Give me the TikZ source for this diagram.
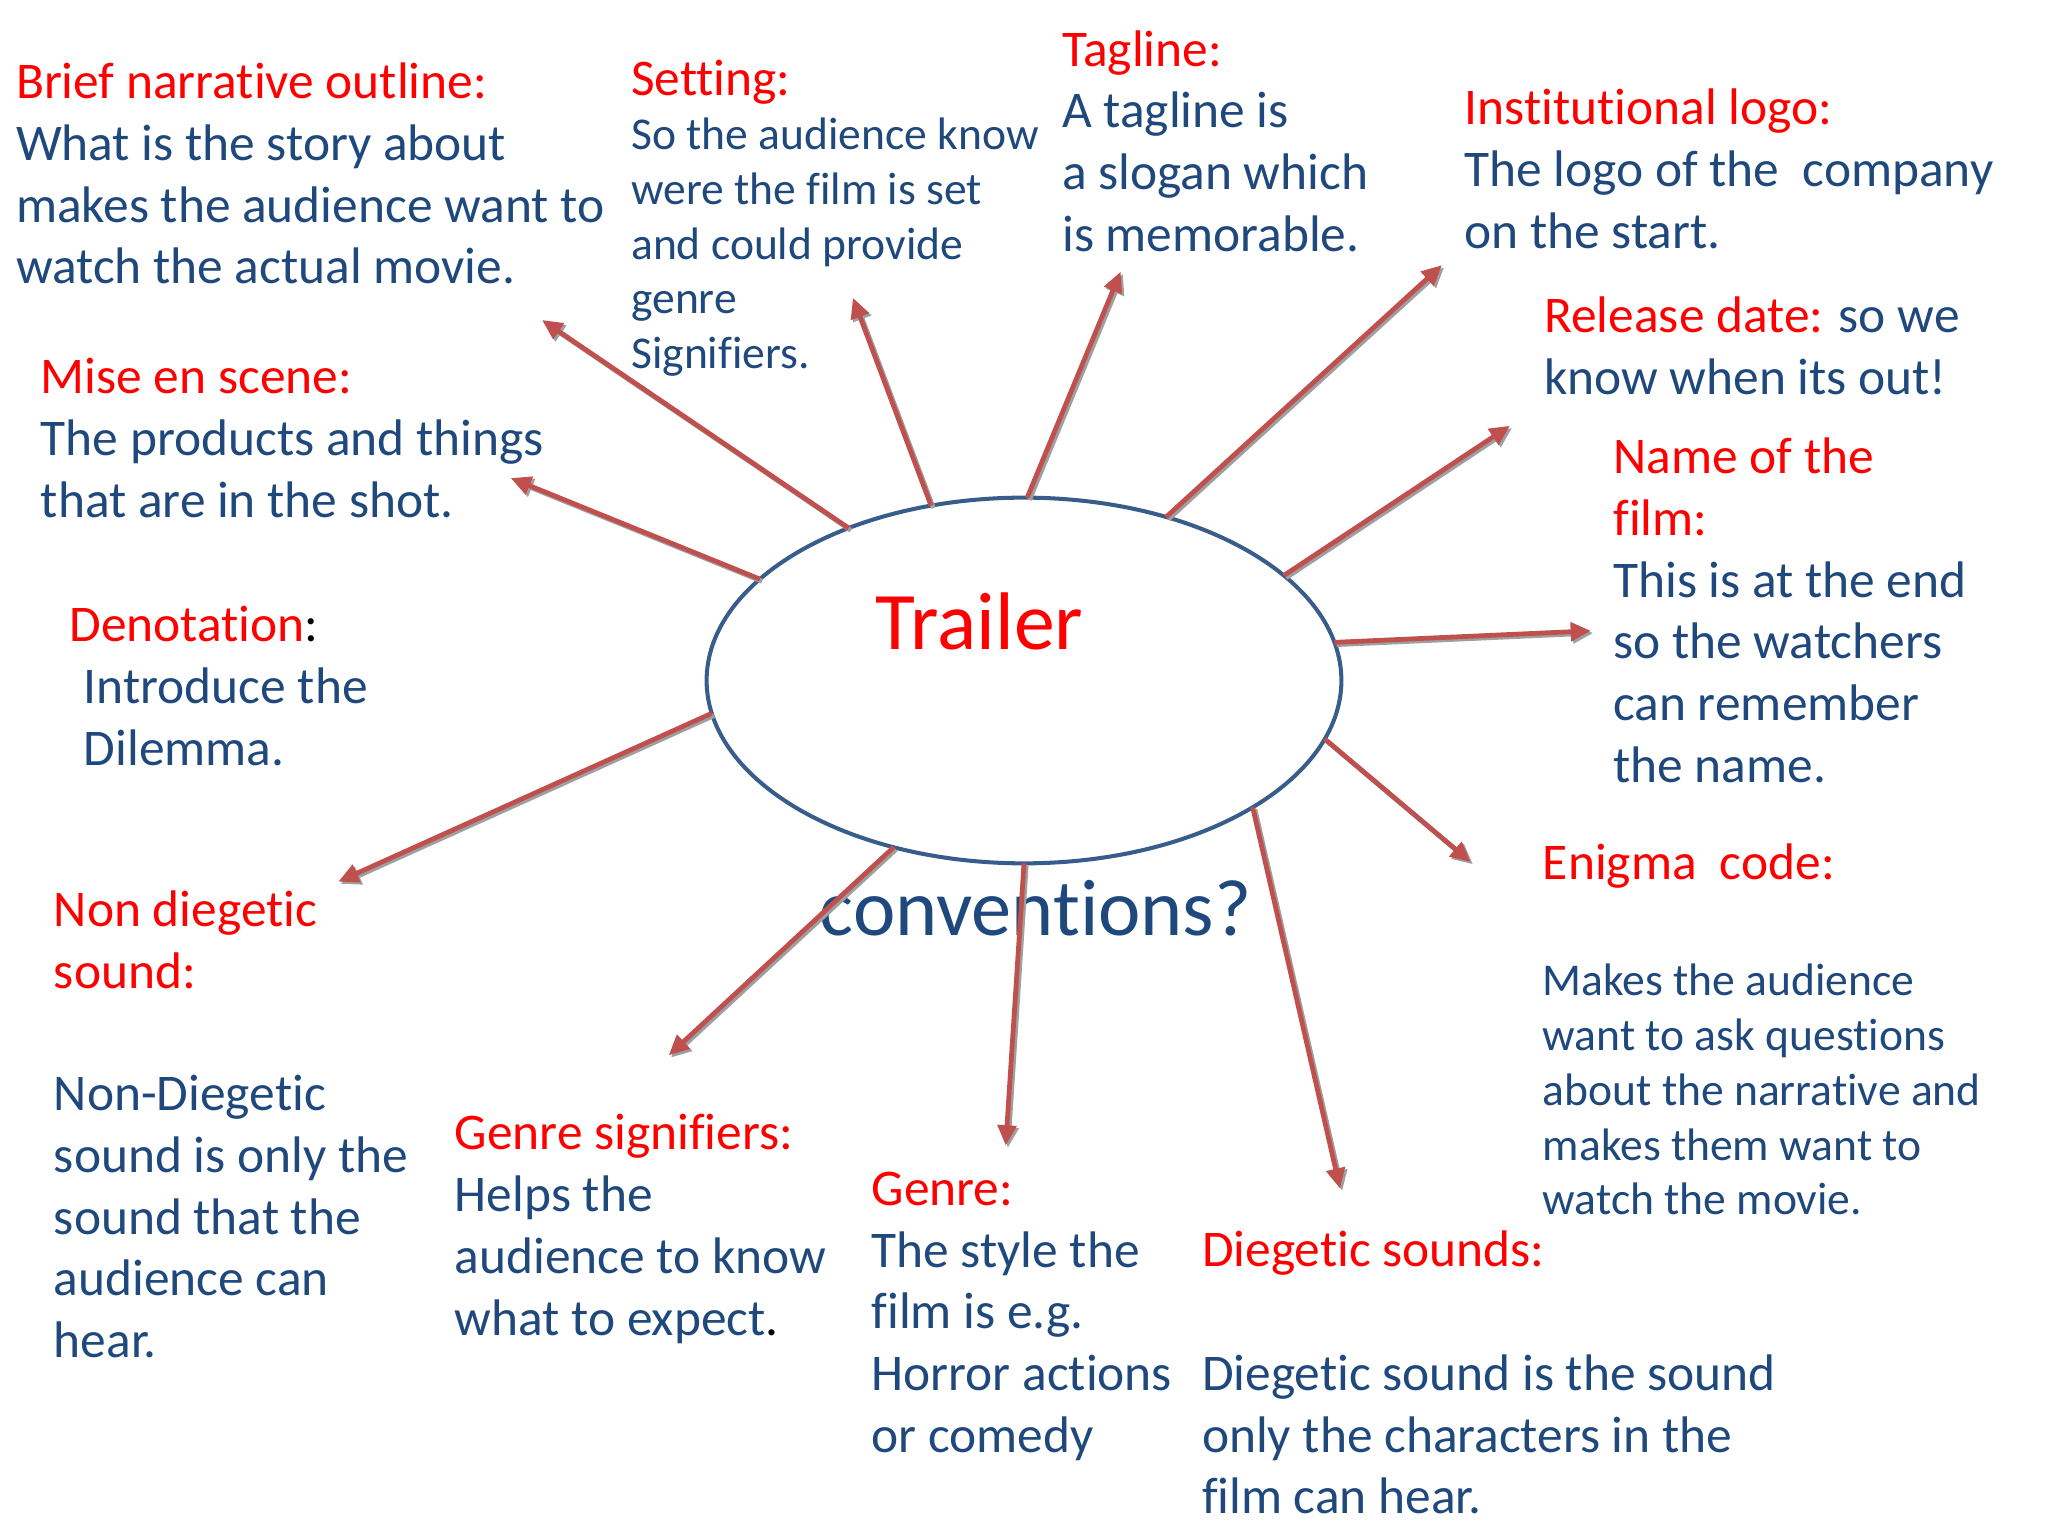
\documentclass[tikz,border=0pt]{standalone}
\usepackage{fontspec}
\setmainfont{Carlito}[Ligatures=NoCommon]
\usetikzlibrary{arrows.meta,shapes.geometric}
\definecolor{navy}{HTML}{1F497D}
\definecolor{arrowred}{HTML}{C0504D}
\definecolor{rim}{HTML}{385D8A}
\newcommand\redlbl[1]{\textcolor{red}{#1}}

\begin{document}
\begin{tikzpicture}[x=0.025cm, y=-0.025cm,
  txt/.style={anchor=north west, inner sep=0pt, align=left, text=navy, font=\fontsize{28}{33.6}\selectfont},
  sml/.style={txt, font=\fontsize{24.8}{29.8}\selectfont},
  big/.style={inner sep=0pt, font=\fontsize{44.5}{50}\selectfont},
  ray/.style={line width=2.6pt, arrowred, -{Triangle[length=11pt,width=10pt]}},
  shd/.style={ray, gray!75, transform canvas={shift={(1.7,1.7)}}}]
\useasboundingbox (0,0) rectangle (1568,1176);

% centre
\node[ellipse, draw=rim, line width=2.2pt, minimum width=486*0.025cm, minimum height=280*0.025cm, inner sep=0pt, outer sep=0pt] (trl) at (784,521) {};
\node[big, text=red] (trailer) at (750,476) {Trailer};
\node[big, text=navy, font=\fontsize{43.7}{50}\selectfont] (conv) at (793,695) {conventions?};

% labels
\node[txt] (brief) at (12,48) {\redlbl{Brief narrative outline:}\\What is the story about\\makes the audience want to\\watch the actual movie.};
\node[txt] (mise) at (31,274) {\redlbl{Mise en scene:}\\The products and things\\that are in the shot.};
\node[txt] (deno) at (53,464) {\redlbl{Denotation}\textcolor{black}{:}\\\hspace{7.8pt}Introduce the\\\hspace{7.8pt}Dilemma.};
\node[txt] (ndh) at (41,682) {\redlbl{Non diegetic}\\\redlbl{sound:}};
\node[txt] (ndb) at (41,823) {Non-Diegetic\\sound is only the\\sound that the\\audience can\\hear.};
\node[txt] (gsig) at (348,853) {\redlbl{Genre signifiers:}\\Helps the\\audience to know\\what to expect\textcolor{black}{.}};
\node[txt] (genre) at (667,897) {\redlbl{Genre:}\\The style the\\film is e.g.\\Horror actions\\or comedy};
\node[txt] (dgh) at (920,942) {\redlbl{Diegetic sounds:}};
\node[txt] (dgb) at (920,1037) {Diegetic sound is the sound\\only the characters in the\\film can hear.};
\node[txt] (enh) at (1181,646) {\redlbl{Enigma\ \ code:}};
\node[sml] (enb) at (1181,738) {Makes the audience\\want to ask questions\\about the narrative and\\makes them want to\\watch the movie.};
\node[txt] (name) at (1235,335) {\redlbl{Name of the}\\\redlbl{film:}\\This is at the end\\so the watchers\\can remember\\the name.};
\node[txt] (rel) at (1182,227) {\redlbl{Release date:} so we\\know when its out!};
\node[txt] (inst) at (1121,68) {\redlbl{Institutional logo:}\\The logo of the\ \ company\\on the start.};
\node[txt] (tag) at (813,23) {\redlbl{Tagline:}\\A tagline is\\a slogan which\\is memorable.};
\node[txt] (seth) at (483,46) {\redlbl{Setting:}};
\node[sml] (setb) at (483,90) {So the audience know\\were the film is set\\and could provide\\genre\\Signifiers.};

% arrow tips
\coordinate (t1) at (415,245);
\coordinate (t2) at (653,228);
\coordinate (t3) at (858,208);
\coordinate (t4) at (1104,203);
\coordinate (t5) at (1156,326);
\coordinate (t6) at (1218,483);
\coordinate (t7) at (1126,660);
\coordinate (t8) at (1026,910);
\coordinate (t9) at (770,877);
\coordinate (t10) at (512,808);
\coordinate (t11) at (259,675);
\coordinate (t12) at (391,366);

\foreach \ang/\tip in {139/t1, 118/t2, 89/t3, 49.5/t4, 22.8/t5, 7.7/t6, -11.6/t7, -29.9/t8, -90/t9, -128.2/t10, -174.4/t11, 159.5/t12} {
  \draw[shd] (trl.\ang) -- (\tip);
  \draw[ray] (trl.\ang) -- (\tip);
}
\end{tikzpicture}
\end{document}
